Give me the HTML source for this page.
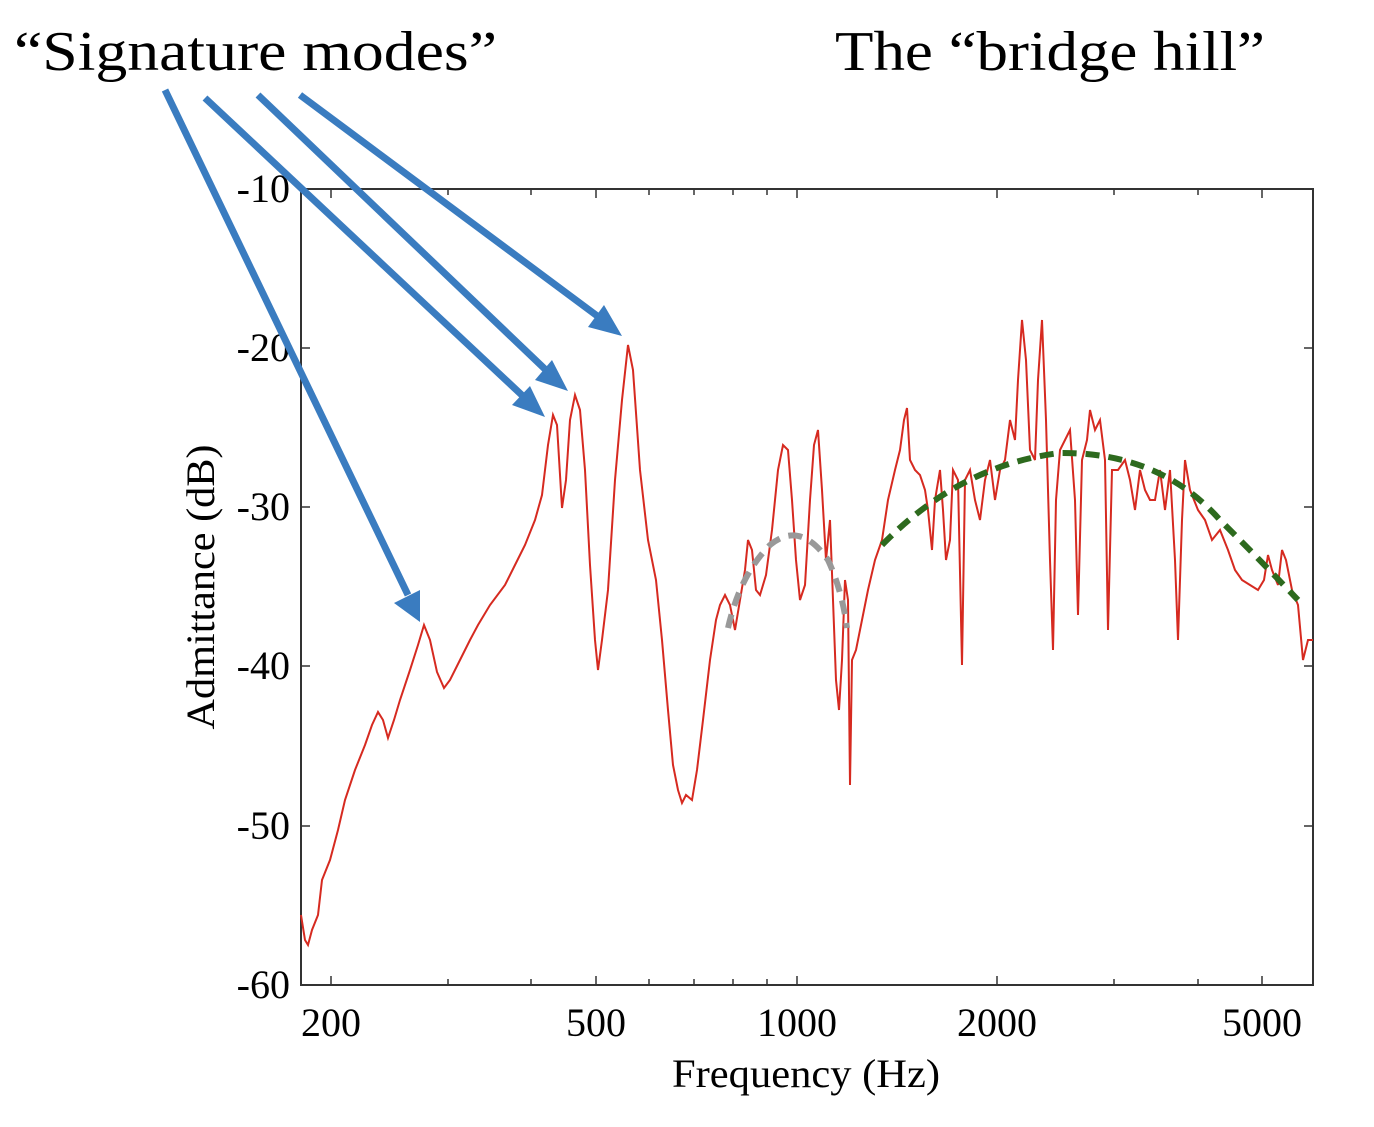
<!DOCTYPE html>
<html><head><style>body{margin:0;background:#fff}</style></head><body>
<svg width="1374" height="1122" xmlns="http://www.w3.org/2000/svg" font-family="Liberation Serif, serif">
<rect width="1374" height="1122" fill="#fff"/>
<text x="14" y="70" font-size="56" textLength="483" lengthAdjust="spacingAndGlyphs">“Signature modes”</text>
<text x="835" y="70" font-size="56" textLength="430" lengthAdjust="spacingAndGlyphs">The “bridge hill”</text>
<rect x="301" y="189" width="1012" height="796" fill="none" stroke="#333" stroke-width="2"/>
<g stroke="#333" stroke-width="1.5">
<path d="M301,348h9M301,507h9M301,666h9M301,826h9M1313,348h-9M1313,507h-9M1313,666h-9M1313,826h-9"/>
<path d="M331,985v-9M596,985v-9M797,985v-9M997,985v-9M1262,985v-9M331,189v9M596,189v9M797,189v9M997,189v9M1262,189v9"/>
<path d="M448,985v-6M531,985v-6M649,985v-6M694,985v-6M733,985v-6M767,985v-6M1114,985v-6M1198,985v-6M448,189v6M531,189v6M649,189v6M694,189v6M733,189v6M767,189v6M1114,189v6M1198,189v6"/>
</g>
<g font-size="40" text-anchor="end">
<text x="290" y="202">-10</text><text x="290" y="361">-20</text><text x="290" y="520">-30</text><text x="290" y="679">-40</text><text x="290" y="839">-50</text><text x="290" y="998">-60</text>
</g>
<g font-size="40" text-anchor="middle">
<text x="331" y="1036">200</text><text x="596" y="1036">500</text><text x="797" y="1036">1000</text><text x="997" y="1036">2000</text><text x="1262" y="1036">5000</text>
<text x="806" y="1087" textLength="268" lengthAdjust="spacingAndGlyphs">Frequency (Hz)</text>
<text transform="translate(214,587) rotate(-90)" textLength="285" lengthAdjust="spacingAndGlyphs">Admittance (dB)</text>
</g>
<polyline fill="none" stroke="#d62a20" stroke-width="2" points="301,915 305,940 308,945 312,930 318,915 322,880 330,860 338,830 345,800 355,770 365,745 372,725 378,712 383,720 388,738 394,720 400,700 410,670 418,645 424,625 430,640 437,672 444,688 450,680 460,660 470,640 478,625 490,605 505,585 515,565 525,545 535,520 542,495 548,445 553,415 557,425 562,508 566,480 570,420 575,395 580,410 585,470 590,565 595,640 598,670 602,640 608,590 615,480 622,400 628,345 633,370 640,470 648,540 656,580 662,640 668,710 673,765 678,790 682,803 686,795 692,800 697,770 703,720 710,660 716,620 720,605 725,595 730,605 735,630 740,600 745,570 748,540 752,550 756,590 760,595 766,575 772,530 778,470 783,445 788,450 792,500 796,560 800,600 805,585 810,500 814,445 818,430 822,490 826,560 830,520 833,600 836,680 839,710 842,660 845,580 848,600 850,785 852,660 856,650 862,620 868,590 875,560 882,540 888,500 895,470 900,450 904,420 907,408 910,460 915,470 920,475 925,490 928,510 932,550 935,500 940,470 943,510 946,560 950,540 953,470 958,480 962,665 965,480 970,470 975,500 980,520 985,480 990,460 995,500 1000,470 1005,460 1010,420 1015,440 1018,380 1022,320 1026,360 1030,450 1035,460 1038,380 1042,320 1046,420 1050,560 1053,650 1056,500 1060,450 1065,440 1070,430 1075,500 1078,615 1082,460 1087,440 1090,410 1095,430 1100,420 1105,460 1108,630 1112,470 1118,470 1125,460 1130,480 1135,510 1140,470 1145,490 1150,500 1155,500 1160,470 1165,510 1170,470 1175,560 1178,640 1182,520 1185,460 1190,490 1198,510 1205,520 1212,540 1220,530 1228,550 1235,570 1242,580 1250,585 1258,590 1264,580 1268,555 1272,570 1278,585 1282,550 1286,560 1292,590 1298,605 1303,660 1308,640 1313,640"/>
<path d="M728,628 Q740,575 770,545 Q800,520 828,560 Q842,590 847,628" fill="none" stroke="#999" stroke-width="6" stroke-dasharray="14,9"/>
<path d="M882,545 Q960,465 1060,453 Q1160,452 1220,520 Q1262,562 1298,600" fill="none" stroke="#2d6a1e" stroke-width="6" stroke-dasharray="14,9"/>
<g stroke="#3a7cc0" stroke-width="7">
<line x1="165" y1="90" x2="408" y2="595"/>
<line x1="205" y1="98" x2="525" y2="398"/>
<line x1="258" y1="95" x2="548" y2="372"/>
<line x1="300" y1="95" x2="600" y2="318"/>
</g>
<g fill="#3a7cc0">
<polygon points="420,622 394,603 420,590"/>
<polygon points="545,417 512,405 530,386"/>
<polygon points="568,391 535,380 552,360"/>
<polygon points="622,336 588,327 604,305"/>
</g>
</svg>
</body></html>
